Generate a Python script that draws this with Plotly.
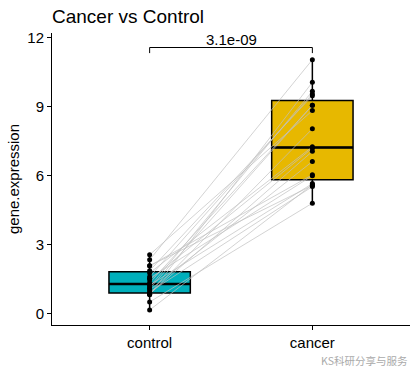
import statistics
import plotly.graph_objects as go

groups = ["control", "cancer"]
control = [1.35, 0.17, 2.57, 0.83, 1.04, 2.35, 1.48, 0.52, 1.61, 0.95,
           1.17, 2.09, 1.78, 0.85, 1.25, 1.88, 0.87, 2.09, 1.10, 1.55]
cancer = [9.06, 5.61, 8.83, 10.06, 6.62, 11.04, 7.20, 4.81, 9.55, 5.53,
          9.67, 6.04, 7.26, 8.04, 5.66, 9.48, 7.06, 5.58, 9.06, 6.00]
p_label = "3.1e-09"
y_ticks = [0, 3, 6, 9, 12]
colors = ["#00AFBB", "#E7B800"]
BOX_W = 0.5

FONT = "Liberation Sans, Arial, sans-serif"
fig = go.Figure()

for i, (vals, col) in enumerate(zip([control, cancer], colors)):
    fig.add_trace(go.Box(
        x=[i] * len(vals), y=vals, width=BOX_W, boxpoints=False,
        fillcolor=col, line=dict(color="black", width=1.5),
        whiskerwidth=0, showlegend=False, hoverinfo="skip"))
    med = statistics.median(vals)
    fig.add_trace(go.Scatter(x=[i - BOX_W / 2, i + BOX_W / 2], y=[med, med],
                             mode="lines", line=dict(color="black", width=2.5),
                             showlegend=False, hoverinfo="skip"))

lx, ly = [], []
for a, b in zip(control, cancer):
    lx += [0, 1, None]
    ly += [a, b, None]
fig.add_trace(go.Scatter(x=lx, y=ly, mode="lines",
                         line=dict(color="#C0C0C0", width=0.7),
                         showlegend=False, hoverinfo="skip"))

fig.add_trace(go.Scatter(x=[0] * len(control) + [1] * len(cancer),
                         y=control + cancer, mode="markers",
                         marker=dict(color="black", size=5),
                         showlegend=False))

top = max(control + cancer)
by = top * 1.048
tick = top * 0.022
fig.add_shape(type="line", x0=0, x1=1, y0=by, y1=by, line=dict(color="black", width=1))
fig.add_shape(type="line", x0=0, x1=0, y0=by, y1=by - tick, line=dict(color="black", width=1))
fig.add_shape(type="line", x0=1, x1=1, y0=by, y1=by - tick, line=dict(color="black", width=1))
fig.add_annotation(x=0.5, y=by, text=p_label, showarrow=False, yanchor="bottom",
                   yshift=-2, font=dict(family=FONT, size=15, color="black"))

fig.add_annotation(xref="paper", yref="paper", x=1.0, y=-0.12, xanchor="right",
                   yanchor="middle",
                   text="KS科研分享与服务", showarrow=False,
                   font=dict(family="Noto Sans CJK SC", size=10.5, color="#AAAAAA"))

fig.update_layout(
    width=419, height=376,
    margin=dict(l=52, r=9, t=33, b=51),
    paper_bgcolor="white", plot_bgcolor="white",
    title=dict(text="Cancer vs Control", x=0, xref="paper", xanchor="left",
               y=1, yref="container", yanchor="top", pad=dict(t=10, l=0),
               font=dict(family=FONT, size=19, color="black")),
    font=dict(family=FONT, size=15, color="black"),
    xaxis=dict(range=[-0.6, 1.6], tickvals=[0, 1], ticktext=groups,
               showline=True, linecolor="black", linewidth=1,
               ticks="outside", ticklen=4, tickcolor="black",
               showgrid=False, zeroline=False, automargin=False,
               tickfont=dict(family=FONT, size=15, color="black")),
    yaxis=dict(range=[-0.48, 12.2], tickvals=y_ticks,
               title=dict(text="gene.expression", standoff=4,
                          font=dict(family=FONT, size=15, color="black")),
               showline=True, linecolor="black", linewidth=1,
               ticks="outside", ticklen=4, tickcolor="black",
               showgrid=False, zeroline=False, automargin=False,
               tickfont=dict(family=FONT, size=15, color="black")),
)

fig.write_html("out.html", config={"displayModeBar": False},
               post_script="document.body.style.margin='0';")
